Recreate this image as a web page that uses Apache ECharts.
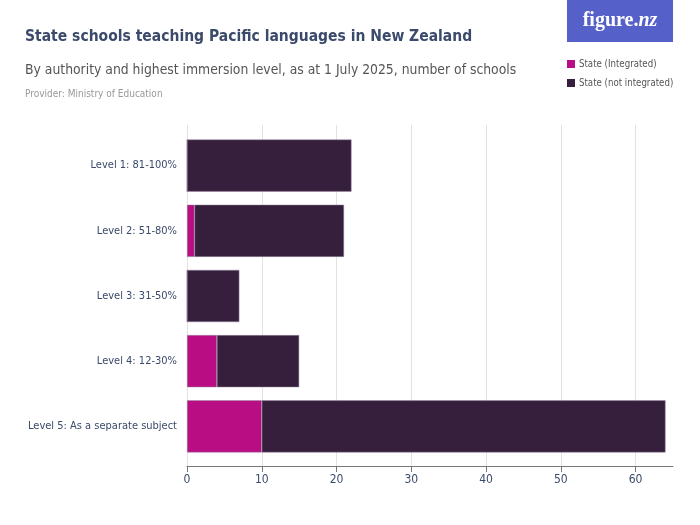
<!DOCTYPE html>
<html>
<head>
    <meta charset="utf-8">
    <title>State schools teaching Pacific languages</title>
    <script src="https://cdn.jsdelivr.net/npm/echarts@6/dist/echarts.min.js"></script>
    <style>
        body { margin: 0; background: #fff; }
    </style>
</head>
<body>
<div id="main" style="width: 700px;height:525px"></div>
<script type="text/javascript">

    // data
    var categories = ['Level 1: 81-100%', 'Level 2: 51-80%', 'Level 3: 31-50%', 'Level 4: 12-30%', 'Level 5: As a separate subject'];
    var integrated = [0, 1, 0, 4, 10];
    var notIntegrated = [22, 20, 7, 11, 54];
    var seriesNames = ['State (Integrated)', 'State (not integrated)'];
    var colours = ['#b90d83', '#361f3d'];
    var tickValues = [0, 10, 20, 30, 40, 50, 60];

    var font = '"DejaVu Sans Condensed", "Roboto", sans-serif';
    var textBlue = '#3b4a6b';

    var myChart = echarts.init(document.getElementById('main'));

    myChart.setOption({
        animation: false,
        textStyle: { fontFamily: font },
        title: [
            {
                text: 'State schools teaching Pacific languages in New Zealand',
                left: 25, top: 29, padding: 0,
                textStyle: { fontFamily: font, fontSize: 15.5, fontWeight: 'bold', color: textBlue }
            },
            {
                text: 'By authority and highest immersion level, as at 1 July 2025, number of schools',
                left: 25, top: 63, padding: 0,
                textStyle: { fontFamily: font, fontSize: 13.8, fontWeight: 'normal', color: '#555' }
            },
            {
                text: 'Provider: Ministry of Education',
                left: 25, top: 89, padding: 0,
                textStyle: { fontFamily: font, fontSize: 10, fontWeight: 'normal', color: '#999' }
            }
        ],
        legend: {
            orient: 'vertical',
            left: 567, top: 59, padding: 0,
            itemWidth: 8, itemHeight: 8, itemGap: 9,
            icon: 'rect',
            data: seriesNames,
            itemStyle: { borderWidth: 0 },
            textStyle: { fontFamily: font, fontSize: 9.6, color: '#555', padding: [0, 0, 0, -1] }
        },
        graphic: [
            {
                type: 'rect',
                shape: { x: 567, y: 0, width: 106, height: 42 },
                style: { fill: '#5561c9' }
            },
            {
                type: 'text',
                x: 620, y: 21,
                style: {
                    text: '{a|figure.}{b|nz}',
                    align: 'center',
                    verticalAlign: 'middle',
                    rich: {
                        a: { fill: '#fff', fontSize: 20, fontWeight: 'bold', fontFamily: '"Liberation Serif", "DejaVu Serif", serif' },
                        b: { fill: '#fff', fontSize: 20, fontWeight: 'bold', fontStyle: 'italic', fontFamily: '"Liberation Serif", "DejaVu Serif", serif' }
                    }
                }
            }
        ],
        grid: [
            { left: 187, right: 27, top: 133, bottom: 66 },
            // taller grid only for the vertical gridlines
            { left: 187, right: 27, top: 125, bottom: 59 }
        ],
        xAxis: [
            {
                type: 'value',
                gridIndex: 0,
                min: 0, max: 65, interval: 10,
                offset: 7,
                axisLine: { show: true, lineStyle: { color: '#777' } },
                axisTick: { show: true, length: 6, customValues: tickValues, lineStyle: { color: '#777' } },
                axisLabel: { color: textBlue, fontSize: 12, margin: 8, fontFamily: font, customValues: tickValues },
                splitLine: { show: false }
            },
            {
                type: 'value',
                gridIndex: 1,
                min: 0, max: 65, interval: 10,
                axisLine: { show: false },
                axisTick: { show: false },
                axisLabel: { show: false },
                splitLine: { show: true, showMaxLine: false, lineStyle: { color: '#e2e2e2', width: 1 } },
                z: 0
            }
        ],
        yAxis: [
            {
                type: 'category',
                gridIndex: 0,
                inverse: true,
                data: categories,
                axisLine: { show: false },
                axisTick: { show: false },
                axisLabel: { color: textBlue, fontSize: 11, margin: 10, fontFamily: font }
            },
            {
                type: 'category',
                gridIndex: 1,
                data: categories,
                show: false
            }
        ],
        series: [
            {
                name: seriesNames[0],
                type: 'bar',
                stack: 'total',
                barWidth: '80%',
                itemStyle: { color: colours[0], borderColor: '#9a8aa0', borderWidth: 0.5 },
                data: integrated
            },
            {
                name: seriesNames[1],
                type: 'bar',
                stack: 'total',
                barWidth: '80%',
                itemStyle: { color: colours[1], borderColor: '#9a8aa0', borderWidth: 0.5 },
                data: notIntegrated
            }
        ]
    });
</script>
</body>
</html>
